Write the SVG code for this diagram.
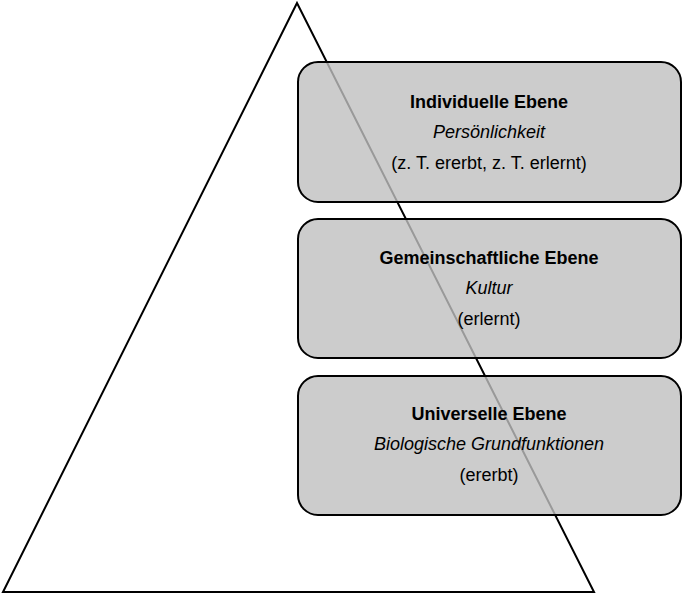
<svg xmlns="http://www.w3.org/2000/svg" width="685" height="595" viewBox="0 0 685 595">
<style>
.b{fill:#bfbfbf;fill-opacity:0.8;stroke:#000;stroke-width:2}
text{font-family:"Liberation Sans",Arial,sans-serif;font-size:18px;text-anchor:middle;fill:#000}
.t{font-weight:bold}.i{font-style:italic}
</style>
<rect width="685" height="595" fill="#fff"/>
<g id="triangle"><polygon points="297,3 3,592 594,592" fill="none" stroke="#000" stroke-width="2"/></g>
<g id="n1"><rect class="b" x="298" y="62" width="383" height="140" rx="20"/>
<text class="t" x="489" y="108">Individuelle Ebene</text>
<text class="i" x="489" y="138">Persönlichkeit</text>
<text x="489" y="169">(z. T. ererbt, z. T. erlernt)</text></g>
<g id="n2"><rect class="b" x="298" y="219" width="383" height="139" rx="20"/>
<text class="t" x="489" y="264">Gemeinschaftliche Ebene</text>
<text class="i" x="489" y="294">Kultur</text>
<text x="489" y="325">(erlernt)</text></g>
<g id="n3"><rect class="b" x="298" y="376" width="383" height="139" rx="20"/>
<text class="t" x="489" y="420">Universelle Ebene</text>
<text class="i" x="489" y="450">Biologische Grundfunktionen</text>
<text x="489" y="481">(ererbt)</text></g>
<g id="connectors"/>
</svg>
